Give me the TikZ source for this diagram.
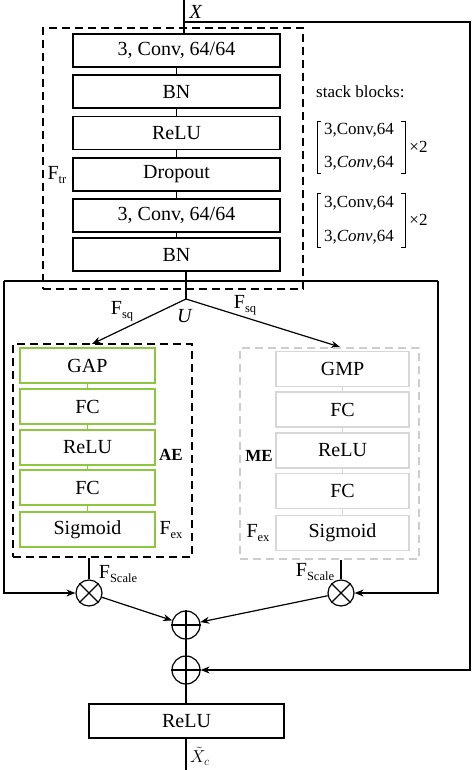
\documentclass[tikz,border=0pt]{standalone}
\usepackage{fontspec}
\setmainfont{Liberation Serif}
\usetikzlibrary{arrows.meta}
\definecolor{aegreen}{RGB}{141,198,63}
\definecolor{megray}{RGB}{205,205,205}
\definecolor{meboxgray}{RGB}{215,215,215}
\newcommand\Fsub[1]{F\raisebox{-0.45ex}{\fontsize{12.5pt}{13pt}\selectfont #1}}
\begin{document}
\begin{tikzpicture}[x=1pt,y=-1pt,
  lnk/.style={line width=1.2pt},
  arr/.style={line width=1.2pt,-{Stealth[length=9pt,width=7pt]}},
  txt20/.style={font=\fontsize{20pt}{22pt}\selectfont, inner sep=0pt},
  blk/.style={draw, line width=1.1pt, minimum width=207pt, minimum height=33pt, inner sep=0pt, font=\fontsize{20pt}{22pt}\selectfont},
  aeblk/.style={draw=aegreen, line width=1.1pt, minimum width=135pt, minimum height=35pt, inner sep=0pt, font=\fontsize{20pt}{22pt}\selectfont},
  meblk/.style={draw=meboxgray, line width=1.1pt, minimum width=133pt, minimum height=35pt, inner sep=0pt, font=\fontsize{20pt}{22pt}\selectfont},
  dbox/.style={draw, dash pattern=on 8pt off 5pt, line width=1.5pt, inner sep=0pt},
  circ/.style={draw, circle, line width=1.2pt, minimum size=26pt, inner sep=0pt},
  stk/.style={font=\fontsize{17pt}{19pt}\selectfont, inner sep=0pt},
  brk/.style={line width=0.9pt}
]
\useasboundingbox (0,0) rectangle (474,770);

% ---- F_tr block ----
\node[dbox, minimum width=260pt, minimum height=261pt] (ftr) at (173,158.5) {};
\node[blk] (c1) at (176.5,50.5) {3, Conv, 64/64};
\node[blk] (c2) at (176.5,91.5) {BN};
\node[blk] (c3) at (176.5,133) {ReLU};
\node[blk] (c4) at (176.5,174.5) {Dropout};
\node[blk] (c5) at (176.5,215.5) {3, Conv, 64/64};
\node[blk] (c6) at (176.5,254.5) {BN};
\draw[lnk] (c1) -- (c2);
\draw[lnk] (c2) -- (c3);
\draw[lnk] (c3) -- (c4);
\draw[lnk] (c4) -- (c5);
\draw[lnk] (c5) -- (c6);
\node[txt20] (ftrlab) at (57,175) {\Fsub{tr}};

% ---- input and skip ----
\coordinate (xtop) at (184,0);
\coordinate (sk) at (184,22);
\coordinate (skr) at (470,22);
\draw[lnk] (xtop) -- (xtop |- c1.north);
\node[txt20] (xlab) at (196,12) {\textit{X}};

% ---- stack blocks ----
\node[stk, anchor=west] (stacklab) at (316,92) {stack blocks:};
\node[stk] (s1a) at (359,130) {3,Conv,64};
\node[stk] (s1b) at (359,163) {3,\textit{Conv},64};
\node[stk] (s2a) at (359,203) {3,Conv,64};
\node[stk] (s2b) at (359,237) {3,\textit{Conv},64};
\draw[brk] (321,121) -- (317,121) -- (317,173) -- (321,173);
\draw[brk] (401,121) -- (405,121) -- (405,173) -- (401,173);
\draw[brk] (321,193) -- (317,193) -- (317,247) -- (321,247);
\draw[brk] (401,193) -- (405,193) -- (405,247) -- (401,247);
\node[font=\fontsize{17pt}{19pt}\selectfont, inner sep=0pt] (x2a) at (418.5,147) {×2};
\node[font=\fontsize{17pt}{19pt}\selectfont, inner sep=0pt] (x2b) at (418.5,220) {×2};

% ---- U split ----
\coordinate (U) at (186,299);
\coordinate (bl) at (4,281);
\coordinate (br) at (438,281);
\coordinate (aein) at (92,344);
\coordinate (mein) at (340,347);
\draw[lnk] (U |- c6.south) -- (U);
\draw[lnk] (bl) -- (br);
\draw[arr] (U) -- (aein);
\draw[arr] (U) -- (mein);
\node[txt20] (ulab) at (185,316) {\textit{U}};
\node[txt20] (fsql) at (122,311) {\Fsub{sq}};
\node[txt20] (fsqr) at (245,305) {\Fsub{sq}};

% ---- AE ----
\node[dbox, minimum width=179pt, minimum height=213pt] (ae) at (102.5,450.5) {};
\node[aeblk] (a1) at (87.5,365.5) {GAP};
\node[aeblk] (a2) at (87.5,406.5) {FC};
\node[aeblk] (a3) at (87.5,447.5) {ReLU};
\node[aeblk] (a4) at (87.5,487.5) {FC};
\node[aeblk] (a5) at (87.5,529.5) {Sigmoid};
\draw[aegreen, line width=1.1pt] (a1) -- (a2);
\draw[aegreen, line width=1.1pt] (a2) -- (a3);
\draw[aegreen, line width=1.1pt] (a3) -- (a4);
\draw[aegreen, line width=1.1pt] (a4) -- (a5);
\node[font=\bfseries\fontsize{17pt}{19pt}\selectfont, inner sep=0pt] (aelab) at (171,455) {AE};
\node[txt20] (fexl) at (171,530) {\Fsub{ex}};

% ---- ME ----
\node[dbox, draw=megray, minimum width=179pt, minimum height=211pt] (me) at (329.5,453.5) {};
\node[meblk] (m1) at (342.5,369) {GMP};
\node[meblk] (m2) at (342.5,409.5) {FC};
\node[meblk] (m3) at (342.5,450.5) {ReLU};
\node[meblk] (m4) at (342.5,491) {FC};
\node[meblk] (m5) at (342.5,533) {Sigmoid};
\draw[meboxgray, line width=1.1pt] (m1) -- (m2);
\draw[meboxgray, line width=1.1pt] (m2) -- (m3);
\draw[meboxgray, line width=1.1pt] (m3) -- (m4);
\draw[meboxgray, line width=1.1pt] (m4) -- (m5);
\node[font=\bfseries\fontsize{17pt}{19pt}\selectfont, inner sep=0pt] (melab) at (259,456) {ME};
\node[txt20] (fexr) at (258,533) {\Fsub{ex}};

% ---- scale / sum ----
\node[circ] (mL) at (89,593) {};
\node[circ] (mR) at (341,593) {};
\draw[lnk] (mL.north east) -- (mL.south west) (mL.north west) -- (mL.south east);
\draw[lnk] (mR.north east) -- (mR.south west) (mR.north west) -- (mR.south east);
\draw[lnk] (mL |- ae.south) -- (mL.north);
\draw[lnk] (mR |- me.south) -- (mR.north);
\draw[arr] (bl) |- (mL.west);
\draw[arr] (br) |- (mR.east);
\node[txt20] (fscl) at (118,574) {\Fsub{Scale}};
\node[txt20] (fscr) at (315,572) {\Fsub{Scale}};

\node[circ, minimum size=28pt] (p1) at (186,625) {};
\node[circ, minimum size=28pt] (p2) at (186,670) {};
\draw[lnk] (p1.north) -- (p1.south) (p1.west) -- (p1.east);
\draw[lnk] (p2.north) -- (p2.south) (p2.west) -- (p2.east);
\draw[arr] (mL) -- (p1);
\draw[arr] (mR) -- (p1);
\draw[lnk] (p1) -- (p2);
\draw[arr] (sk) -- (skr) |- (p2.east);

% ---- output ----
\node[blk, minimum width=195pt, minimum height=34pt] (relu) at (186.5,721) {ReLU};
\coordinate (out) at (186,770);
\draw[lnk] (p2.south) -- (p2.south |- relu.north);
\draw[lnk] (relu.south -| out) -- (out);
\node[inner sep=0pt, font=\fontsize{17pt}{19pt}\selectfont] (xclab) at (200,756) {$\tilde{X}_{c}$};
\end{tikzpicture}
\end{document}
